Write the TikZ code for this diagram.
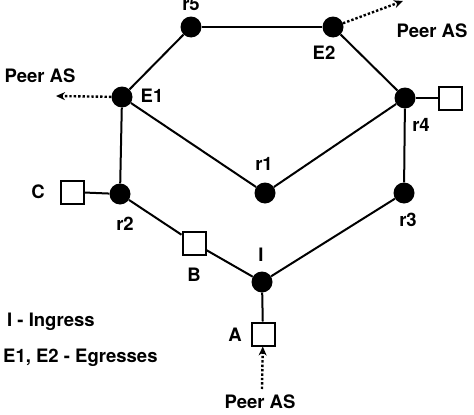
\documentclass[tikz,border=0pt]{standalone}
\usepackage{fontspec}
\setmainfont{TeX Gyre Heros}
\usetikzlibrary{arrows.meta}
\begin{document}
\begin{tikzpicture}[x=1pt,y=-1pt,
  router/.style={circle,fill=black,minimum size=21pt,inner sep=0pt},
  host/.style={draw=black,line width=2pt,fill=white,minimum size=23pt,inner sep=0pt},
  lbl/.style={inner sep=0pt,font=\fontsize{18.5}{21}\selectfont\bfseries},
  link/.style={line width=2pt},
  peer/.style={line width=2.4pt,dotted,-{Stealth[length=9pt,width=8pt]}}]
\useasboundingbox (0,0) rectangle (474,415);
% routers
\node[router] (r5) at (191,27) {};
\node[router] (E2) at (333,27) {};
\node[router] (E1) at (122,97) {};
\node[router] (r4) at (405,98) {};
\node[router] (r1) at (265,193) {};
\node[router] (r3) at (404,193) {};
\node[router] (r2) at (120,194) {};
\node[router] (I) at (262,282) {};
% links
\draw[link] (r5) -- (E2);
\draw[link] (r5) -- (E1);
\draw[link] (E2) -- (r4);
\draw[link] (E1) -- (r1);
\draw[link] (r1) -- (r4);
\draw[link] (E1) -- (r2);
\draw[link] (r4) -- (r3);
\draw[link] (r3) -- (I);
% hosts
\node[host] (C) at (72,192) {};
\node[host] (B) at (194,243) {};
\node[host] (D) at (450,98) {};
\node[host] (A) at (263,334) {};
\draw[link] (r2) -- (C);
\draw[link] (r2) -- (B);
\draw[link] (B) -- (I);
\draw[link] (r4) -- (D);
\draw[link] (I) -- (A);
% peer arrows
\coordinate (pE2) at (403,1);
\coordinate (pE1) at (56,96);
\coordinate (pA) at (262,389);
\draw[peer] (E2) -- (pE2);
\draw[peer] (E1) -- (pE1);
\draw[peer] (pA) -- (A);
% labels
\node[lbl] (l5) at (191,4) {r5};
\node[lbl] (lE2) at (324,53) {E2};
\node[lbl] (pas1) at (432,31) {Peer AS};
\node[lbl] (lE1) at (152,96) {E1};
\node[lbl] (pas2) at (40,76) {Peer AS};
\node[lbl] (l4) at (421,125) {r4};
\node[lbl] (l1) at (264,164) {r1};
\node[lbl] (l3) at (408,220) {r3};
\node[lbl] (lC) at (38,192) {C};
\node[lbl] (l2) at (125,224) {r2};
\node[lbl] (lB) at (194,275) {B};
\node[lbl] (lI) at (261,255) {I};
\node[lbl] (lA) at (235,335) {A};
\node[lbl] (pas3) at (260,402) {Peer AS};
\node[lbl,anchor=west] (leg1) at (7,322) {I - Ingress};
\node[lbl,anchor=west] (leg2) at (3,358) {E1, E2 - Egresses};
\end{tikzpicture}
\end{document}
